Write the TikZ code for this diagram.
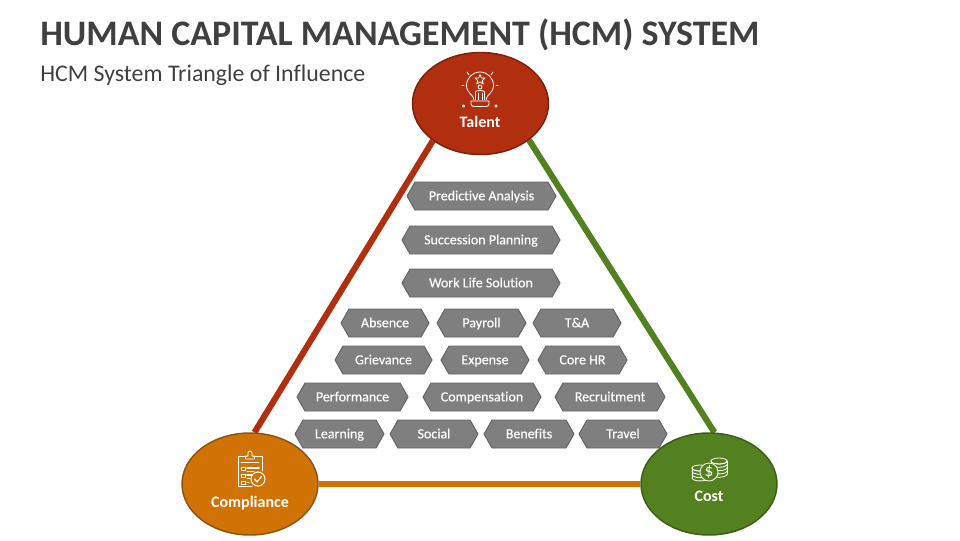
\documentclass[tikz,border=0pt]{standalone}
\usepackage{fontspec}
\setmainfont[Ligatures=NoCommon]{Carlito}
\newfontfamily\hexfont[Ligatures=NoCommon,FakeBold=0.25]{Carlito}
\usetikzlibrary{shapes.geometric}
\pgfdeclarelayer{links}
\pgfsetlayers{links,main}
\definecolor{talentc}{HTML}{B12F0E}
\definecolor{talentd}{HTML}{7A210A}
\definecolor{compc}{HTML}{D07204}
\definecolor{compd}{HTML}{8C5312}
\definecolor{costc}{HTML}{548120}
\definecolor{costd}{HTML}{3C5C18}
\definecolor{hexc}{HTML}{7F7F7F}
\definecolor{hexd}{HTML}{636363}
\definecolor{titlec}{HTML}{404040}
\tikzset{
  hexpath/.style={fill=hexc,draw=hexd,line width=0.7pt,line join=round},
  hexlabel/.style={text=white,font=\hexfont\fontsize{10.5pt}{12pt}\selectfont,inner sep=0pt,text height=7pt,text depth=2pt},
  hub/.style={ellipse,minimum width=102pt,minimum height=76.5pt,inner sep=0pt,line width=1.1pt},
  link/.style={line width=4.6pt},
  hublabel/.style={text=white,font=\bfseries\fontsize{12pt}{14pt}\selectfont,inner sep=0pt,text height=8pt,text depth=2pt},
  icon/.style={draw=white,line width=0.6pt,line join=round,line cap=round},
}
% row y, left, right, label
\newcommand{\hexa}[5]{%
  \path[hexpath] (#3,#2-14) -- (#4,#2-14) -- (#4+8,#2) -- (#4,#2+14) -- (#3,#2+14) -- (#3-8,#2) -- cycle;
  \node[hexlabel] (#1) at ({(#3+#4)/2},#2+1) {#5};}
\begin{document}
\begin{tikzpicture}[x=0.75pt,y=-0.75pt]
\useasboundingbox (0,0) rectangle (960,540);
\node[anchor=west,inner sep=0pt,text=titlec,font=\bfseries\fontsize{26.95pt}{30pt}\selectfont] (title) at (40,35) {HUMAN CAPITAL MANAGEMENT (HCM) SYSTEM};
\node[anchor=west,inner sep=0pt,text=titlec,font=\fontsize{17.9pt}{20pt}\selectfont] (subtitle) at (40,75.5) {HCM System Triangle of Influence};

\node[hub,fill=talentc,draw=talentd] (talent) at (480.5,103.5) {};
\node[hub,fill=compc,draw=compd] (compliance) at (250,484) {};
\node[hub,fill=costc,draw=costd] (cost) at (709,484) {};
\begin{pgfonlayer}{links}
\draw[link,draw=talentc] (talent.218.7) -- (compliance.85.5);
\draw[link,draw=costc] (talent.-37) -- (cost.84);
\draw[link,draw=compc] (compliance.east) -- (cost.west);
\end{pgfonlayer}

\node[hublabel] (talentlabel) at (480,123) {Talent};
\node[hublabel] (complabel) at (250,503) {Compliance};
\node[hublabel] (costlabel) at (709,497) {Cost};

% hexagons
\hexa{h1}{196}{415}{548}{Predictive Analysis}
\hexa{h2}{240}{410}{552}{Succession Planning}
\hexa{h3}{283}{410}{552}{Work Life Solution}
\hexa{h4}{323}{349}{421}{Absence}
\hexa{h5}{323}{445}{518}{Payroll}
\hexa{h6}{323}{541}{613}{T\&A}
\hexa{h7}{360}{343}{424}{Grievance}
\hexa{h8}{360}{449}{521}{Expense}
\hexa{h9}{360}{546}{619}{Core HR}
\hexa{h10}{397}{305}{400}{Performance}
\hexa{h11}{397}{431}{533}{Compensation}
\hexa{h12}{397}{563}{657}{Recruitment}
\hexa{h13}{434}{303}{376}{Learning}
\hexa{h14}{434}{398}{470}{Social}
\hexa{h15}{434}{492}{566}{Benefits}
\hexa{h16}{434}{587}{659}{Travel}

% bulb icon
\draw[icon] (474,100) .. controls (474,95) and (466.5,93) .. (466.5,85.5) arc[start angle=180,end angle=360,radius=13.5] .. controls (493.5,93) and (486,95) .. (486,100);
\draw[icon] (471,101) -- (489,101) -- (489,104) .. controls (489,106) and (487,106.5) .. (486,106.5) -- (474,106.5) .. controls (473,106.5) and (471,106) .. (471,104) -- cycle;
\draw[icon] (480,74.5) -- (481.5,78) -- (485,78) -- (482.3,80.5) -- (483.3,84) -- (480,82) -- (476.7,84) -- (477.7,80.5) -- (475,78) -- (478.5,78) -- cycle;
\draw[icon] (480,87) circle[radius=2];
\draw[icon] (475.5,100) -- (475.5,92) .. controls (475.5,90) and (484.5,90) .. (484.5,92) -- (484.5,100);
\draw[icon] (478,100) -- (478,93);
\draw[icon] (482,100) -- (482,93);
\draw[icon] (462,85.5) -- (464,85.5) (496,85.5) -- (498,85.5) (467,72) -- (469,75) (493,72) -- (491,75);
\draw[icon] (463.5,106) circle[radius=1.2] (496,106) circle[radius=1.2];

% clipboard icon
\draw[icon] (247,456) -- (238,456) -- (238,486) -- (252,486);
\draw[icon] (253,456) -- (262.5,456) -- (262.5,471);
\draw[icon] (245.5,459) -- (245.5,456) -- (248,456) -- (248,453) arc[start angle=180,end angle=360,radius=2] -- (252,456) -- (254.5,456) -- (254.5,459) -- cycle;
\draw[icon] (241,462.5) -- (259,462.5);
\draw[icon] (241,467) rectangle (245,470.5) (241,474) rectangle (245,477.5) (241,481) rectangle (245,484);
\draw[icon,line width=1.3pt] (247,468) -- (259,468) (247,475) -- (252,475);
\draw[icon] (247,471) -- (254,471) (247,478) -- (250,478) (247,482) -- (249,482);
\draw[icon,line width=0.8pt] (258,479) circle[radius=7];
\draw[icon,line width=1pt] (254.5,479) -- (257,482) -- (261.5,476.5);

% coins icon
\foreach \yy in {0,3.3,6.6,9.9,13.2}{
  \draw[icon] (711,{461+\yy}) arc[start angle=180,end angle=0,x radius=8,y radius=3];}
\draw[icon] (719,461) ellipse[x radius=8,y radius=3];
\draw[icon] (711,461) -- (711,474.2) (727,461) -- (727,474.2);
\foreach \yy in {0,3.3,6.6,9.9}{
  \draw[icon] (692,{468+\yy}) arc[start angle=180,end angle=0,x radius=8,y radius=3];}
\draw[icon] (700,468) ellipse[x radius=8,y radius=3];
\draw[icon] (692,468) -- (692,477.9);
\draw[icon,fill=costc] (709,472) circle[radius=9];
\node[inner sep=0pt,text=white,font=\fontsize{13pt}{13pt}\selectfont] (dollar) at (709,472) {\$};
\end{tikzpicture}
\end{document}
